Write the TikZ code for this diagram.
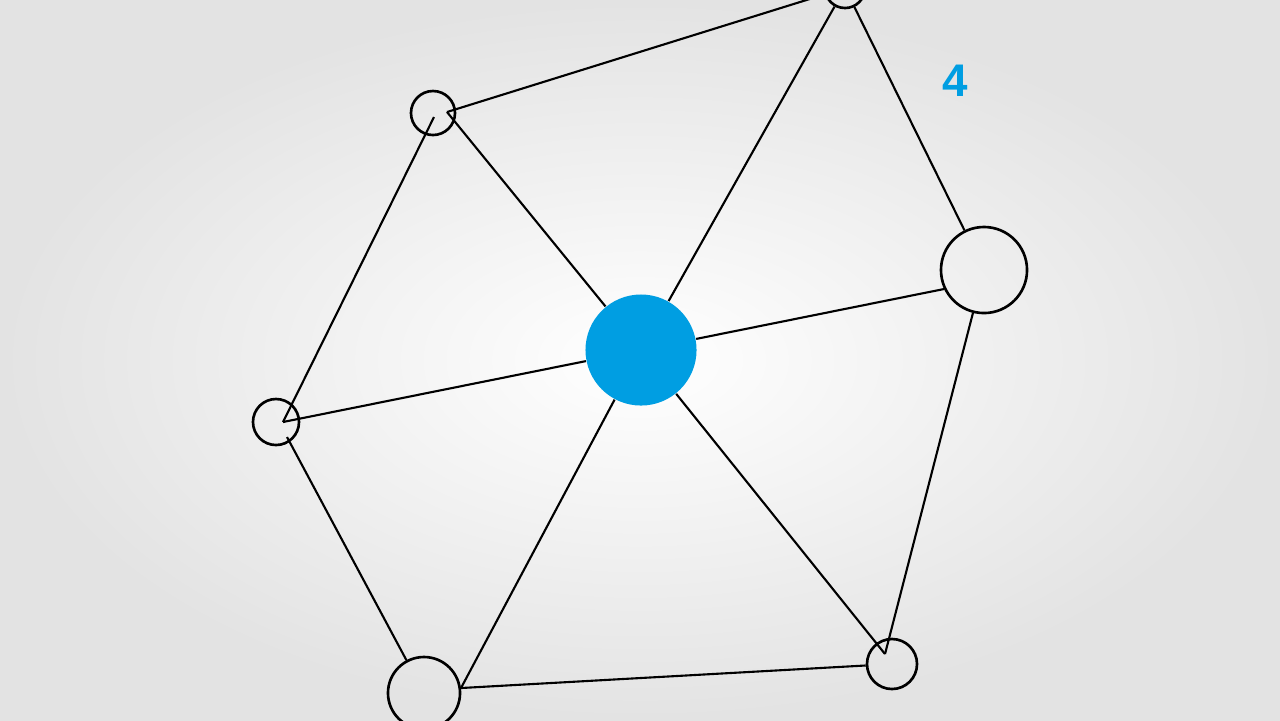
\documentclass[tikz,border=0pt]{standalone}
\usepackage{fontspec}
\setsansfont{Liberation Sans}
\definecolor{hubblue}{RGB}{0,158,226}
\tikzset{
  ring/.style={draw, circle, line width=0.75pt, inner sep=0pt},
  hub/.style={circle, fill=hubblue, inner sep=0pt, minimum size=1.11cm},
  link/.style={line width=0.6pt}
}
\begin{document}
\begin{tikzpicture}[x=0.01cm, y=-0.01cm]
    \shade[inner color=white, outer color=black!11] (0,0) rectangle (1280,720);
    \useasboundingbox (0,0) rectangle (1280,720);
    %% nodes of the wheel
    \node[hub] (hub) at (641,350) {};
    \node[ring, minimum size=0.40cm] (top) at (845,-12) {};
    \node[ring, minimum size=0.44cm] (upleft) at (433,113) {};
    \node[ring, minimum size=0.86cm] (right) at (984,270) {};
    \node[ring, minimum size=0.46cm] (left) at (276,422) {};
    \node[ring, minimum size=0.72cm] (lowleft) at (424,693) {};
    \node[ring, minimum size=0.50cm] (lowright) at (892,664) {};
    %% inner ends of the lines
    \coordinate (upleftA) at (447,112);
    \coordinate (upleftB) at (434,117);
    \coordinate (rightA) at (944,289);
    \coordinate (leftA) at (283,422);
    \coordinate (leftB) at (287,437);
    \coordinate (lowleftA) at (461,688);
    \coordinate (lowrightA) at (885,654);
    %% next six \draw are spokes
    \draw[link] (hub) -- (top);
    \draw[link] (hub) -- (upleftA);
    \draw[link] (hub) -- (rightA);
    \draw[link] (hub) -- (leftA);
    \draw[link] (hub) -- (lowleftA);
    \draw[link] (hub) -- (lowrightA);
    %% next six \draw are the rim
    \draw[link] (upleftA) -- (top);
    \draw[link] (top) -- (right);
    \draw[link] (right) -- (lowrightA);
    \draw[link] (lowright) -- (lowleftA);
    \draw[link] (lowleft) -- (leftB);
    \draw[link] (leftA) -- (upleftB);
    \node[text=hubblue, font=\sffamily\bfseries\fontsize{13pt}{13pt}\selectfont] (step) at (955,81) {4};
\end{tikzpicture}
\end{document}
